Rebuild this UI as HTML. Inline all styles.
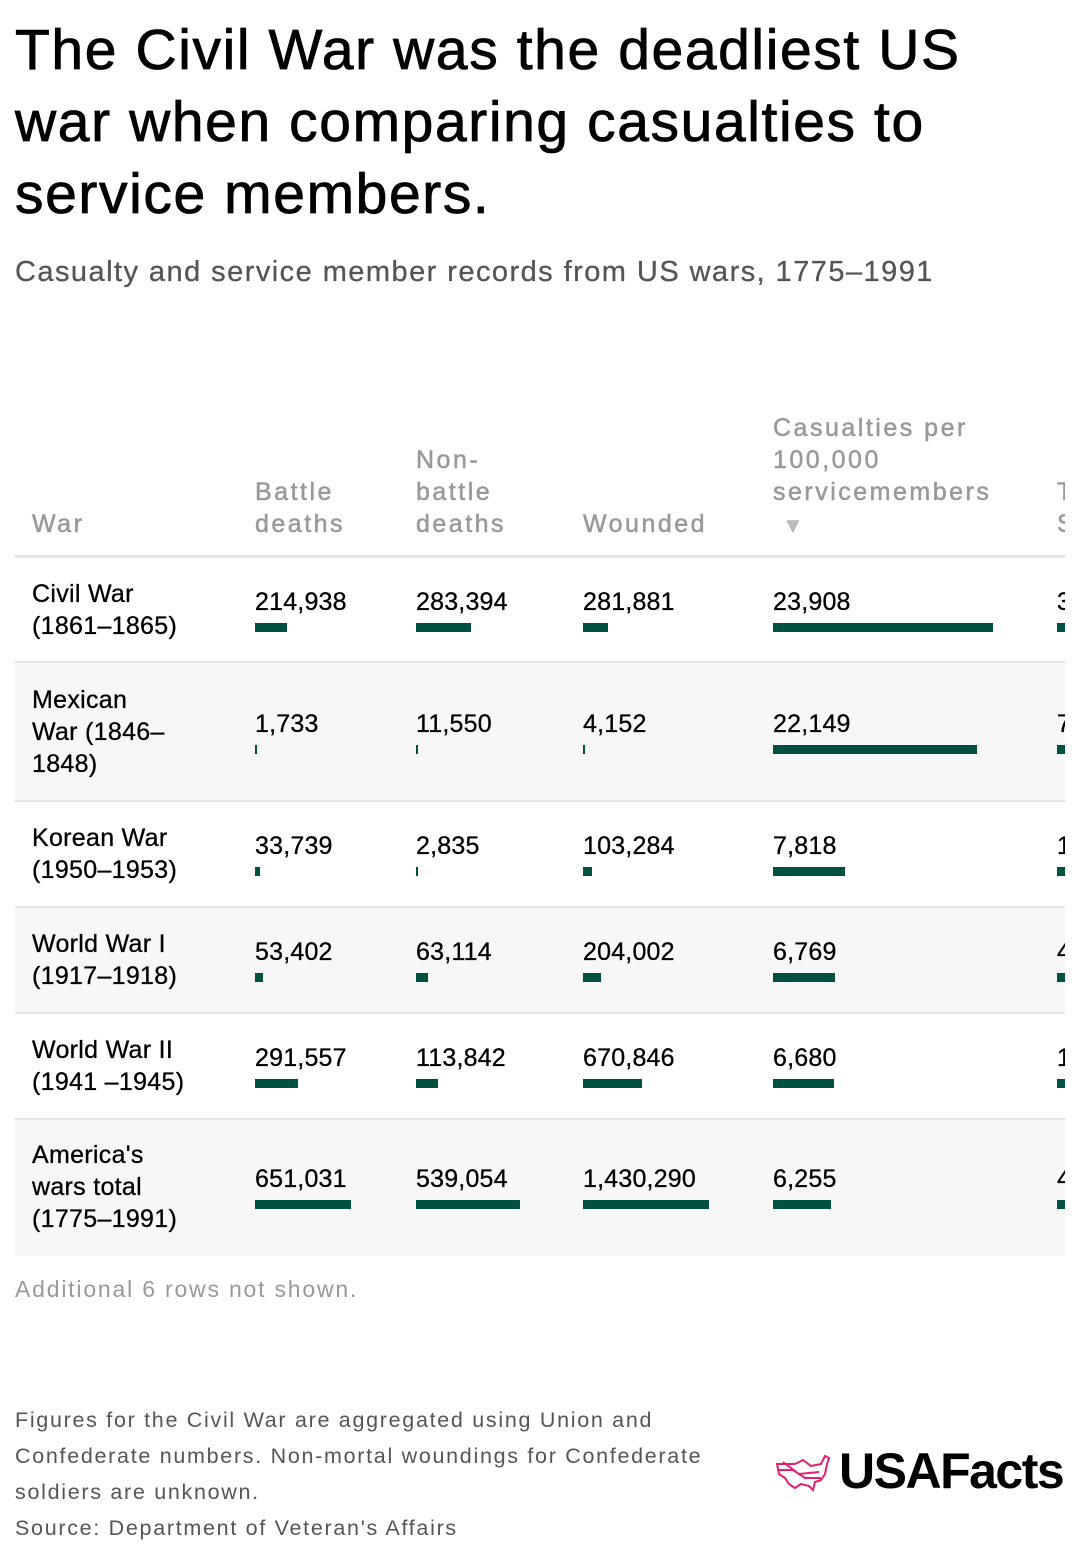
<!DOCTYPE html>
<html><head><meta charset="utf-8">
<style>
body{margin:0;width:1080px;height:1560px;background:#fff;font-family:"Liberation Sans",sans-serif;position:relative;overflow:hidden}
.abs{position:absolute}
#title{left:15px;top:14px;font-size:57px;line-height:72px;color:#000;-webkit-text-stroke:0.8px #000;letter-spacing:1.6px;white-space:nowrap}
#subtitle{left:15px;top:256px;font-size:29px;color:#555;letter-spacing:1.45px;-webkit-text-stroke:0.3px #555}
#table{left:15px;top:400px;width:1050px;height:860px;overflow:hidden}
.hdr{position:absolute;color:#999;font-size:25px;line-height:32px;letter-spacing:2.5px;-webkit-text-stroke:0.5px #999}
.cell{position:absolute;font-size:25px;line-height:32px;color:#000;white-space:nowrap;letter-spacing:0.7px;-webkit-text-stroke:0.3px #000}
.bar{position:absolute;height:9px;background:#00513f}
.row{position:absolute;left:0;width:1050px}
#note{left:15px;top:1276px;font-size:23px;color:#999;letter-spacing:1.8px}
#foot{left:15px;top:1402px;font-size:21.5px;line-height:36px;color:#555;white-space:nowrap;letter-spacing:1.7px}
#logo{left:775px;top:1448px}
</style></head><body>
<div id="title" class="abs">The Civil War was the deadliest US<br>war when comparing casualties to<br>service members.</div>
<div id="subtitle" class="abs">Casualty and service member records from US wars, 1775–1991</div>
<div id="table" class="abs"></div>
<div id="note" class="abs">Additional 6 rows not shown.</div>
<div id="foot" class="abs">Figures for the Civil War are aggregated using Union and<br>Confederate numbers. Non-mortal woundings for Confederate<br>soldiers are unknown.<br>Source: Department of Veteran's Affairs</div>
<div id="logo" class="abs">
<svg width="60" height="44" viewBox="0 0 60 44" style="position:absolute;left:0;top:4px"><path d="M2 12 L20 12 L28 8 L36 14 L46 12 L50 4 L54 6 L52 12 L50 22 L46 28 L40 30 L38 38 L34 34 L26 32 L20 36 L14 32 L10 26 L4 22 Z M4 18 L18 18 L30 26 L46 26 M8 10 L24 22 L44 20" fill="none" stroke="#e5206f" stroke-width="2"/></svg>
<div style="position:absolute;left:64px;top:-6px;font-size:50px;font-weight:bold;letter-spacing:-1.5px;color:#000;white-space:nowrap">USAFacts</div>
</div>
<script>
const wars=[["Civil War","(1861–1865)"],["Mexican","War (1846–","1848)"],["Korean War","(1950–1953)"],["World War I","(1917–1918)"],["World War II","(1941 –1945)"],["America's","wars total","(1775–1991)"]];
const battleDeaths=[214938,1733,33739,53402,291557,651031];
const nonBattleDeaths=[283394,11550,2835,63114,113842,539054];
const wounded=[281881,4152,103284,204002,670846,1430290];
const casualtiesPer100k=[23908,22149,7818,6769,6680,6255];
const lastColLabels=["3","7","1","4","1","4"];
const lastColValues=[30,10,10,20,10,20];
const tbl=document.getElementById('table');
const rowTops=[156,261,400,506,612,718];const rowH=[105,139,106,106,106,136];
const cols=[{x:240,data:battleDeaths,max:651031,w:96},{x:401,data:nonBattleDeaths,max:539054,w:104},{x:568,data:wounded,max:1430290,w:126},{x:758,data:casualtiesPer100k,max:23908,w:220}];
function scale(v,max,w){return Math.max(2,v/max*w);}
function add(cls,style,txt,name){const d=document.createElement('div');d.className=cls;d.style.cssText=style;if(txt!==undefined)d.innerHTML=txt;


tbl.appendChild(d);return d;}
add('hdr','left:17px;top:108px','War','header-war');
add('hdr','left:240px;top:76px','Battle<br>deaths','header-battle-deaths');
add('hdr','left:401px;top:44px','Non-<br>battle<br>deaths','header-non-battle-deaths');
add('hdr','left:568px;top:108px','Wounded','header-wounded');
add('hdr','left:758px;top:12px;white-space:nowrap','Casualties per<br>100,000<br>servicemembers<br><span style="color:#bbb;font-size:20px;padding-left:10px">▼</span>','header-casualties-per-100k');
add('hdr','left:1042px;top:76px','T<br>S','header-last');
add('row','top:155px;height:2px;background:#e0e0e0',undefined,'header-divider');
wars.forEach((w,i)=>{
 const t=rowTops[i];
 add('row','top:'+t+'px;height:'+rowH[i]+'px;background:'+(i%2?'#f7f7f7':'#fff')+';border-top:2px solid #e6e6e6','', 'row-bg');
 const lines=w.length;const ty=t+2+(rowH[i]-lines*32)/2-1;
 add('cell','left:17px;top:'+ty+'px;letter-spacing:0.3px',w.join('<br>'),'war-name');
 const cy=t+(rowH[i]-44)/2;
 cols.forEach((c,j)=>{
  add('cell','left:'+c.x+'px;top:'+(cy-1)+'px;letter-spacing:0.2px',c.data[i].toLocaleString('en-US'),'value-cell');
  add('bar','left:'+c.x+'px;top:'+(cy+36)+'px;width:'+scale(c.data[i],c.max,c.w)+'px','','value-bar');
 });
 add('cell','left:1042px;top:'+(cy-1)+'px',lastColLabels[i],'value-cell-last');
 add('bar','left:1042px;top:'+(cy+36)+'px;width:'+lastColValues[i]+'px','','value-bar-last');
});
</script>
</body></html>
